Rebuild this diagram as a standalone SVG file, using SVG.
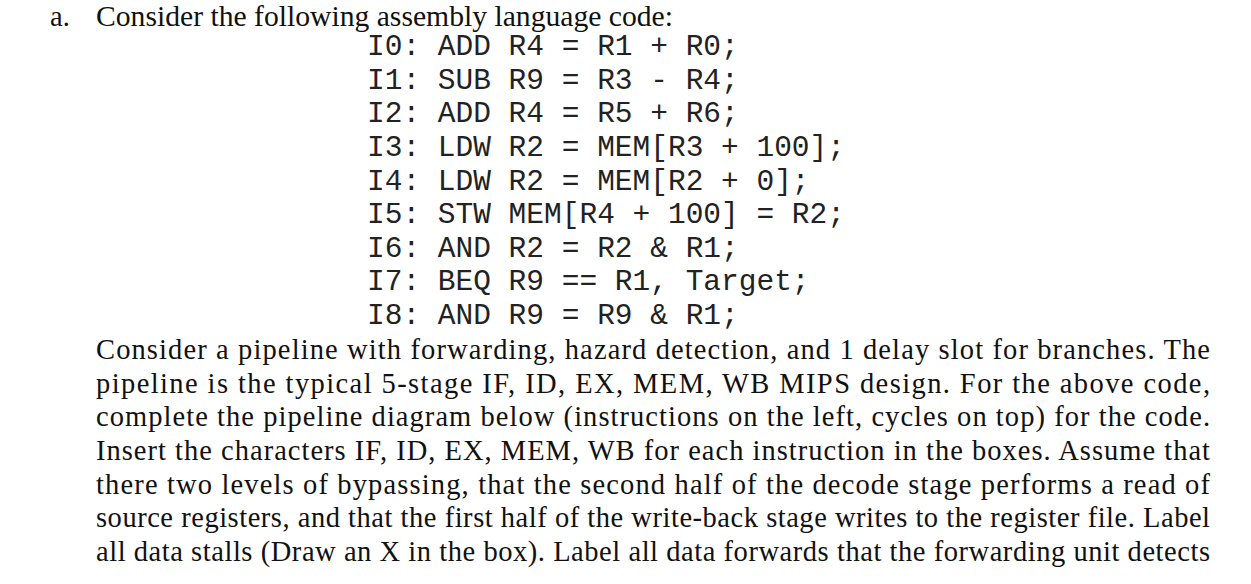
<svg xmlns="http://www.w3.org/2000/svg" width="1251" height="584" viewBox="0 0 1251 584">
<style>
.t{font-family:"Liberation Serif",serif;font-size:28.5px;fill:#111}
.c{font-family:"Liberation Mono",monospace;font-size:29.5px;fill:#222}
</style>
<rect width="1251" height="584" fill="#fff"/>
<g id="header">
<text class="t" x="50" y="26">a.</text>
<text class="t" x="96" y="26" textLength="577" lengthAdjust="spacingAndGlyphs">Consider the following assembly language code:</text>
</g>
<g id="code">
<text class="c" x="367" y="55">I0: ADD R4 = R1 + R0;</text>
<text class="c" x="367" y="89">I1: SUB R9 = R3 - R4;</text>
<text class="c" x="367" y="122">I2: ADD R4 = R5 + R6;</text>
<text class="c" x="367" y="156">I3: LDW R2 = MEM[R3 + 100];</text>
<text class="c" x="367" y="190">I4: LDW R2 = MEM[R2 + 0];</text>
<text class="c" x="367" y="223">I5: STW MEM[R4 + 100] = R2;</text>
<text class="c" x="367" y="257">I6: AND R2 = R2 &amp; R1;</text>
<text class="c" x="367" y="290">I7: BEQ R9 == R1, Target;</text>
<text class="c" x="367" y="324">I8: AND R9 = R9 &amp; R1;</text>
</g>
<g id="paragraph">
<text class="t" x="96" y="359" textLength="1114" lengthAdjust="spacing">Consider a pipeline with forwarding, hazard detection, and 1 delay slot for branches. The</text>
<text class="t" x="96" y="393" textLength="1114" lengthAdjust="spacing">pipeline is the typical 5-stage IF, ID, EX, MEM, WB MIPS design. For the above code,</text>
<text class="t" x="96" y="426" textLength="1114" lengthAdjust="spacing">complete the pipeline diagram below (instructions on the left, cycles on top) for the code.</text>
<text class="t" x="96" y="460" textLength="1114" lengthAdjust="spacing">Insert the characters IF, ID, EX, MEM, WB for each instruction in the boxes. Assume that</text>
<text class="t" x="96" y="494" textLength="1114" lengthAdjust="spacing">there two levels of bypassing, that the second half of the decode stage performs a read of</text>
<text class="t" x="96" y="527" textLength="1114" lengthAdjust="spacing">source registers, and that the first half of the write-back stage writes to the register file. Label</text>
<text class="t" x="96" y="561" textLength="1114" lengthAdjust="spacing">all data stalls (Draw an X in the box). Label all data forwards that the forwarding unit detects</text>
</g>
</svg>
